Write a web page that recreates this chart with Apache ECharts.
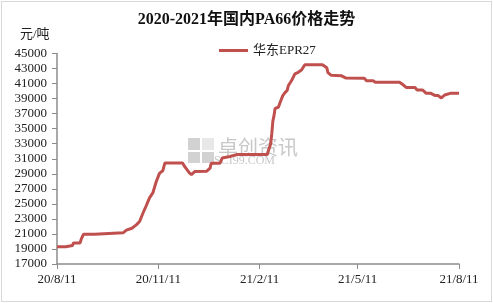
<!DOCTYPE html>
<html>
<head>
<meta charset="utf-8">
<script src="https://cdn.jsdelivr.net/npm/echarts@6/dist/echarts.min.js"></script>
<style>
html,body{margin:0;padding:0;background:#fff;}
#frame{position:absolute;left:1px;top:1px;width:489px;height:299px;border:1px solid #d9d9d9;}
#chart{position:absolute;left:0;top:0;width:493px;height:303px;}
</style>
</head>
<body>
<div id="frame"></div>
<div id="chart"></div>
<script>
const titleText = '2020-2021年国内PA66价格走势';
const unitText = '元/吨';
const seriesName = '华东EPR27';
const xTickDates = ['2020-08-11','2020-11-11','2021-02-11','2021-05-11','2021-08-11'];
const yMin = 17000, yMax = 45000, yStep = 2000;

const dates = [
'2020-08-11','2020-08-19','2020-08-20','2020-08-25','2020-08-26','2020-09-01','2020-09-02','2020-09-04',
'2020-09-14','2020-09-15','2020-10-10','2020-10-13','2020-10-18','2020-10-22','2020-10-25','2020-10-28',
'2020-10-31','2020-11-03','2020-11-06','2020-11-09','2020-11-12','2020-11-15','2020-11-17','2020-12-03',
'2020-12-05','2020-12-09','2020-12-11','2020-12-14','2020-12-25','2020-12-28','2020-12-29','2021-01-06',
'2021-01-08','2021-01-15','2021-01-21','2021-02-18','2021-02-19','2021-02-21','2021-02-22','2021-02-23',
'2021-02-24','2021-02-25','2021-02-28','2021-03-02','2021-03-04','2021-03-06','2021-03-08','2021-03-09',
'2021-03-12','2021-03-15','2021-03-18','2021-03-21','2021-03-24','2021-04-09','2021-04-13','2021-04-14',
'2021-04-17','2021-04-26','2021-04-30','2021-05-17','2021-05-19','2021-05-25','2021-05-27','2021-06-18',
'2021-06-21','2021-06-24','2021-07-02','2021-07-04','2021-07-09','2021-07-12','2021-07-16','2021-07-20',
'2021-07-23','2021-07-26','2021-07-29','2021-08-03','2021-08-11'
];
const prices = [
19300,19300,19450,19450,19800,19800,20300,20950,
20950,21150,21150,21500,21750,22200,22650,23750,
24750,25800,26450,27900,29050,29400,30450,30450,
29950,29150,28900,29300,29350,29750,30400,30400,
31100,31300,31550,31550,32100,33000,34300,36000,
36700,37700,37850,38650,39400,39800,40100,40700,
41400,42300,42500,42800,43500,43500,43100,42450,
42100,42050,41750,41700,41380,41380,41180,41180,
40870,40480,40480,40150,40150,39720,39720,39420,
39420,39090,39480,39700,39700
];

function ts(s){const p=s.split('-').map(Number);return Date.UTC(p[0],p[1]-1,p[2]);}
function fmt(v){const d=new Date(v);return String(d.getUTCFullYear()%100)+'/'+(d.getUTCMonth()+1)+'/'+d.getUTCDate();}

const serif = '"Liberation Serif","Noto Sans CJK SC",serif';
const data = dates.map((d,i)=>[ts(d),prices[i]]);
const tickVals = xTickDates.map(ts);

const chart = echarts.init(document.getElementById('chart'),null,{renderer:'canvas'});
chart.setOption({
  backgroundColor:'transparent',
  animation:false,
  title:{text:titleText,left:'center',top:7,textStyle:{fontFamily:serif,fontSize:16,fontWeight:'bold',color:'#111'}},
  legend:{data:[seriesName],left:214,top:39,icon:'rect',itemWidth:29,itemHeight:3,itemGap:4,
    textStyle:{fontFamily:serif,fontSize:13,color:'#222'}},
  graphic:[
    {type:'text',left:20,top:28,style:{text:unitText,font:'13px '+serif,fill:'#222'}},
    {type:'group',left:188,top:138,silent:true,z:-1,children:[
      {type:'rect',shape:{x:0,y:0,width:12,height:12},style:{fill:'#d2d2d2'}},
      {type:'rect',shape:{x:14,y:0,width:12,height:12},style:{fill:'#e8e8e8'}},
      {type:'rect',shape:{x:0,y:14,width:12,height:11},style:{fill:'#d2d2d2'}},
      {type:'rect',shape:{x:14,y:14,width:12,height:11},style:{fill:'#d2d2d2'}}
    ]},
    {type:'text',left:218,top:137,silent:true,z:-1,style:{text:'卓创资讯',font:'20px "Noto Sans CJK SC"',fill:'#c8c8c8'}},
    {type:'text',left:214,top:155,silent:true,z:-1,style:{text:'SCI99.COM',font:'12px '+serif,fill:'#c8c8c8'}}
  ],
  grid:{left:57,right:34,top:53.5,bottom:39,containLabel:false},
  xAxis:{type:'value',min:tickVals[0],max:tickVals[tickVals.length-1],
    axisLine:{lineStyle:{color:'#8c8c8c',width:1.5}},
    axisTick:{show:true,length:5,customValues:tickVals,lineStyle:{color:'#8c8c8c'}},
    axisLabel:{customValues:tickVals,formatter:fmt,margin:9,fontFamily:serif,fontSize:13,color:'#222',showMinLabel:true,showMaxLabel:true},
    splitLine:{show:false}},
  yAxis:{type:'value',min:yMin,max:yMax,interval:yStep,
    axisLine:{show:true,lineStyle:{color:'#8c8c8c',width:1.5}},
    axisTick:{show:true,length:5,lineStyle:{color:'#8c8c8c'}},
    axisLabel:{margin:10,fontFamily:serif,fontSize:13,color:'#222',formatter:v=>String(v)},
    splitLine:{show:false}},
  series:[{name:seriesName,type:'line',data:data,showSymbol:false,symbol:'none',
    lineStyle:{color:'#C0504D',width:3},itemStyle:{color:'#C0504D'}}]
});
</script>
</body>
</html>
